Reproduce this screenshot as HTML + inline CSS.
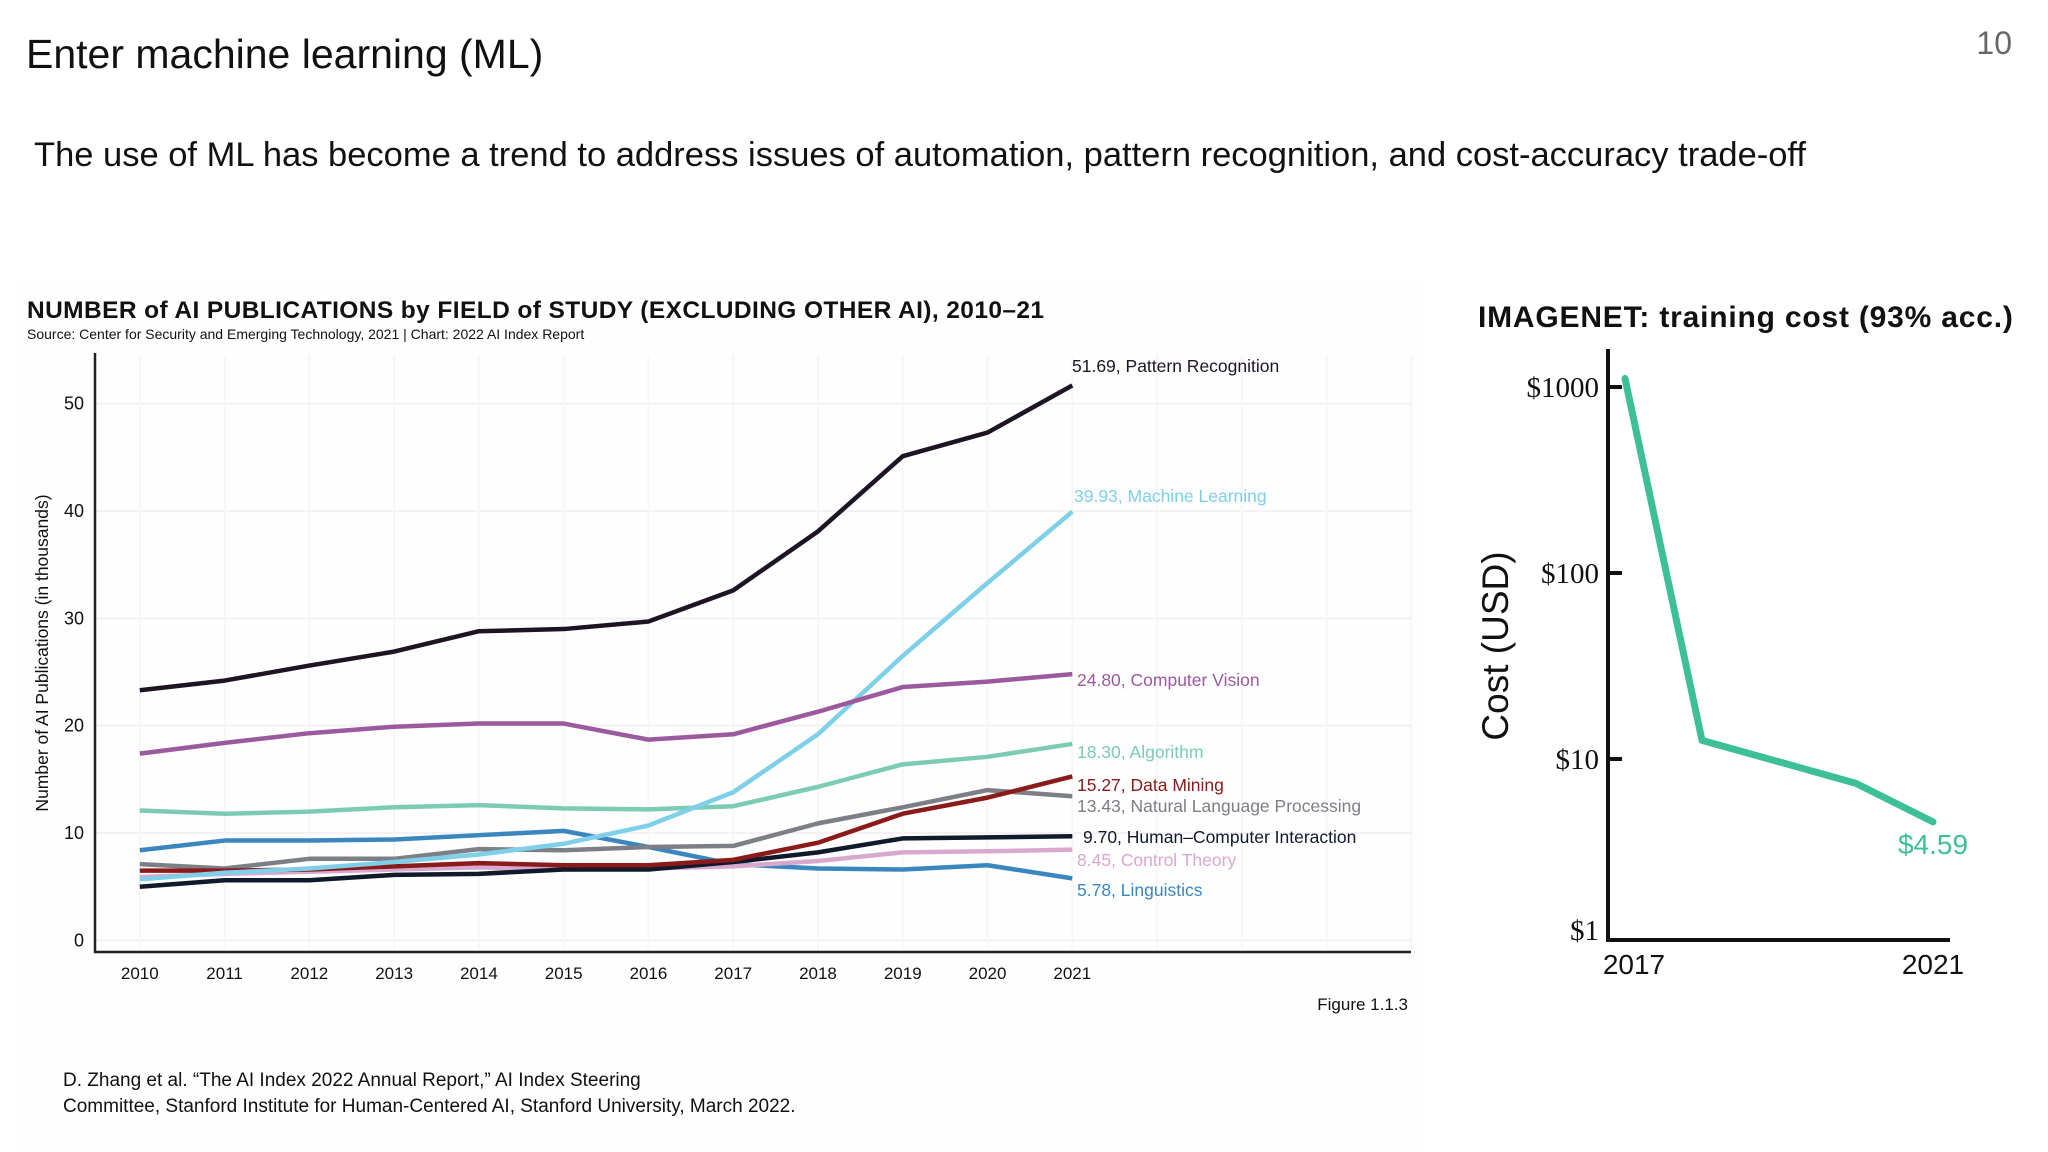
<!DOCTYPE html>
<html><head><meta charset="utf-8"><style>
body{margin:0;width:2048px;height:1152px;background:#fff;overflow:hidden;font-family:"Liberation Sans","DejaVu Sans",sans-serif;}
svg{position:absolute;left:0;top:0}
</style></head><body>
<svg width="2048" height="1152" id="s">
<text x="26" y="68" font-size="41" fill="#111">Enter machine learning (ML)</text>
<text x="2012" y="54" font-size="32" fill="#666" text-anchor="end">10</text>
<text x="34" y="166" font-size="34.5" fill="#111">The use of ML has become a trend to address issues of automation, pattern recognition, and cost-accuracy trade-off</text>
<rect x="20" y="280" width="1400" height="870" fill="#fefefe"/>
<text x="27" y="318" font-size="24.5" font-weight="bold" fill="#111" letter-spacing="0.4">NUMBER of AI PUBLICATIONS by FIELD of STUDY (EXCLUDING OTHER AI), 2010–21</text>
<text x="27" y="339" font-size="14" fill="#111">Source: Center for Security and Emerging Technology, 2021 | Chart: 2022 AI Index Report</text>
<g id="main"></g>
<text x="1408" y="1010" font-size="17" fill="#111" text-anchor="end">Figure 1.1.3</text>
<text x="63" y="1086" font-size="19" fill="#111">D. Zhang et al. “The AI Index 2022 Annual Report,” AI Index Steering</text>
<text x="63" y="1112" font-size="19" fill="#111">Committee, Stanford Institute for Human-Centered AI, Stanford University, March 2022.</text>
<text x="1478" y="327" font-size="30" font-weight="bold" fill="#111" letter-spacing="0.8">IMAGENET: training cost (93% acc.)</text>
<g id="right"></g>
</svg>
<script>
const years=[2010,2011,2012,2013,2014,2015,2016,2017,2018,2019,2020,2021];
const yTicks=[0,10,20,30,40,50];
const names=["Pattern Recognition","Machine Learning","Computer Vision","Algorithm","Data Mining","Natural Language Processing","Human–Computer Interaction","Control Theory","Linguistics"];
const patternRec=[23.3,24.2,25.6,26.9,28.8,29.0,29.7,32.6,38.1,45.1,47.3,51.69];
const machineLearning=[5.7,6.3,6.7,7.3,8.0,9.0,10.7,13.8,19.2,26.5,33.3,39.93];
const computerVision=[17.4,18.4,19.3,19.9,20.2,20.2,18.7,19.2,21.3,23.6,24.1,24.80];
const algorithm=[12.1,11.8,12.0,12.4,12.6,12.3,12.2,12.5,14.3,16.4,17.1,18.30];
const dataMining=[6.5,6.5,6.6,6.9,7.2,7.0,7.0,7.5,9.1,11.8,13.3,15.27];
const nlp=[7.1,6.7,7.6,7.6,8.5,8.4,8.7,8.8,10.9,12.4,14.0,13.43];
const hci=[5.0,5.6,5.6,6.1,6.2,6.6,6.6,7.3,8.2,9.5,9.6,9.70];
const controlTheory=[5.9,6.2,6.4,6.6,6.8,6.6,6.7,6.9,7.4,8.2,8.3,8.45];
const linguistics=[8.4,9.3,9.3,9.4,9.8,10.2,8.7,7.1,6.7,6.6,7.0,5.78];
const costYears=[2017,2018,2020,2021];
const costValues=[1112,12.6,7.4,4.59];
const costTicks=[1,10,100,1000];
const costTickLabels=["$1","$10","$100","$1000"];

const NS="http://www.w3.org/2000/svg";
function mk(parent,tag,attrs,txt){const e=document.createElementNS(NS,tag);for(const k in attrs)e.setAttribute(k,attrs[k]);if(txt!==undefined)e.textContent=txt;parent.appendChild(e);return e;}
const main=document.getElementById('main');
const X=y=>139.8+(y-2010)*(1072.3-139.8)/11;
const Y=v=>940.4-v*(940.4-403.6)/50;
yTicks.forEach(t=>{
  const g=mk(main,'line',{x1:95,x2:1411,y1:Y(t),y2:Y(t),stroke:'#f3f1f5','stroke-width':2});
  
  
  const l=mk(main,'text',{x:84,y:Y(t)+6,'font-size':18,'text-anchor':'end',fill:'#111'},String(t));
  
  
});
for(let yr=2010;yr<=2025;yr++){
  const g=mk(main,'line',{x1:X(yr),x2:X(yr),y1:355,y2:950,stroke:'#f7f5f8','stroke-width':2});
  
  
}
years.forEach(yr=>{
  const l=mk(main,'text',{x:X(yr),y:979,'font-size':17,'text-anchor':'middle',fill:'#111'},String(yr));
  
  
});
const ax=mk(main,'path',{d:'M95 353 V952 H1411',fill:'none',stroke:'#222','stroke-width':2.5});


const yt=mk(main,'text',{transform:'translate(48 653) rotate(-90)','font-size':17.5,'text-anchor':'middle',fill:'#111'},'Number of AI Publications (in thousands)');


const series=[linguistics,controlTheory,hci,nlp,dataMining,algorithm,machineLearning,computerVision,patternRec];
const order=[8,7,6,5,4,3,1,2,0];
const colors=["#1e1424","#7ecfe8","#9b5a9e","#7ccbb5","#8b1a1a","#7d7f86","#0f1a2a","#d9a8cf","#3a87c0"];
const labelY=[372,502,686,758,791,812,843,866,896];
const labelX=[1072,1074,1077,1077,1077,1077,1083,1077,1077];
series.forEach((arr,i)=>{
  const k=order[i];
  const p=mk(main,'polyline',{points:arr.map((v,j)=>X(years[j])+','+Y(v)).join(' '),fill:'none',stroke:colors[k],'stroke-width':4.5,'stroke-linejoin':'round'});
  
  
  const t=mk(main,'text',{x:labelX[k],y:labelY[k],'font-size':17.5,fill:colors[k]},arr[arr.length-1].toFixed(2)+', '+names[k]);
  
  
});
const right=document.getElementById('right');
const RX=y=>1625+(y-2017)*(1933-1625)/4;
const RY=v=>945-Math.log10(v)*186;
const rax=mk(right,'path',{d:'M1608 349 V940 H1950',fill:'none',stroke:'#111','stroke-width':4});


costTicks.forEach((t,i)=>{
  if(t>1){const tk=mk(right,'line',{x1:1608,x2:1622,y1:RY(t),y2:RY(t),stroke:'#111','stroke-width':4});
  
  }
  const l=mk(right,'text',{x:1599,y:Math.min(RY(t)+10,940),'font-size':29,'text-anchor':'end',fill:'#111','font-family':'Liberation Serif, serif'},costTickLabels[i]);
  
  
});
[2017,2021].forEach(yr=>{
  const l=mk(right,'text',{x:RX(yr)+(yr===2017?9:0),y:974,'font-size':28,'text-anchor':'middle',fill:'#111'},String(yr));
  
  
});
const ct=mk(right,'text',{transform:'translate(1508 646) rotate(-90)','font-size':37,'text-anchor':'middle',fill:'#111'},'Cost (USD)');


const cl=mk(right,'polyline',{points:costValues.map((v,j)=>RX(costYears[j])+','+RY(v)).join(' '),fill:'none',stroke:'#3dbf97','stroke-width':7,'stroke-linejoin':'round','stroke-linecap':'round'});


const cv=mk(right,'text',{x:1933,y:854,'font-size':28,'text-anchor':'middle',fill:'#3dbf97'},'$'+costValues[costValues.length-1]);


</script>
</body></html>
